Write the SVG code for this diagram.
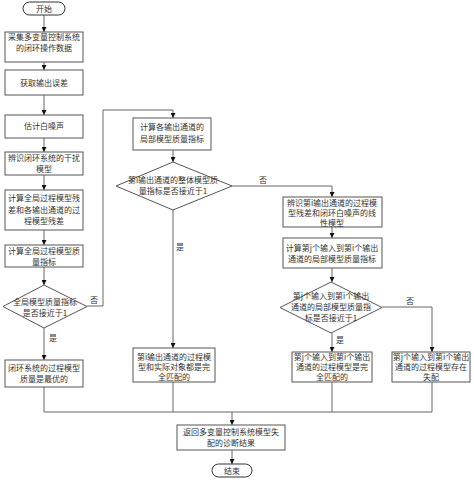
<svg xmlns="http://www.w3.org/2000/svg" width="474" height="482" viewBox="0 0 474 482">
<defs>
<marker id="arr" viewBox="0 0 10 10" refX="10" refY="5" markerWidth="5" markerHeight="5" orient="auto" markerUnits="userSpaceOnUse">
<path d="M0,0 L10,5 L0,10 z" fill="#111"/>
</marker>
</defs>
<style>
.box{fill:#fff;stroke:#555;stroke-width:1}
.pill{fill:#fff;stroke:#333;stroke-width:1}
.t{font-family:"Noto Sans CJK SC","Noto Sans",sans-serif;font-size:8px;fill:#333;text-anchor:middle}
.l{fill:none;stroke:#666;stroke-width:1}
.a{fill:none;stroke:#666;stroke-width:1;marker-end:url(#arr)}
</style>
<rect width="474" height="482" fill="#fff"/>

<g id="connectors">
<path class="a" d="M44,15 V32"/>
<path class="a" d="M44,62 V70"/>
<path class="a" d="M44,95 V115"/>
<path class="a" d="M44,138 V152"/>
<path class="a" d="M44,175 V190"/>
<path class="a" d="M44,230 V245"/>
<path class="a" d="M44,267 V285"/>
<path class="a" d="M44,328 V360"/>
<path class="a" d="M87,306 H103 V110 H173 V118"/>
<path class="a" d="M173,150 V162"/>
<path class="a" d="M232,186 H332 V197"/>
<path class="a" d="M173,210 V348"/>
<path class="a" d="M332,227 V238"/>
<path class="a" d="M332,268 V282"/>
<path class="a" d="M382,307 H432 V352"/>
<path class="a" d="M332,333 V352"/>
<path class="l" d="M44,387 V412 H432"/>
<path class="l" d="M173,382 V412"/>
<path class="l" d="M332,382 V412"/>
<path class="l" d="M432,382 V412"/>
<path class="a" d="M232,412 V425"/>
<path class="a" d="M232,450 V464"/>
<text class="t" x="94" y="303">否</text>
<text class="t" x="53" y="341">是</text>
<text class="t" x="263" y="183">否</text>
<text class="t" x="180" y="250">是</text>
<text class="t" x="410" y="304">否</text>
<text class="t" x="340" y="343">是</text>
</g>

<g id="start">
<rect class="pill" x="23" y="2" width="42" height="13" rx="6.5"/>
<text class="t" x="44" y="11.5">开始</text>
</g>

<g id="collect">
<rect class="box" x="5" y="32" width="78" height="30"/>
<text class="t" x="44" y="39.5">采集多变量控制系统</text>
<text class="t" x="44" y="51">的闭环操作数据</text>
</g>

<g id="error">
<rect class="box" x="5" y="70" width="78" height="25"/>
<text class="t" x="44" y="86">获取输出误差</text>
</g>

<g id="noise">
<rect class="box" x="5" y="115" width="78" height="23"/>
<text class="t" x="44" y="129">估计白噪声</text>
</g>

<g id="disturb">
<rect class="box" x="5" y="152" width="78" height="23"/>
<text class="t" x="44" y="160.5">辨识闭环系统的干扰</text>
<text class="t" x="44" y="171.5">模型</text>
</g>

<g id="residual">
<rect class="box" x="5" y="190" width="78" height="40"/>
<text class="t" x="44" y="201">计算全局过程模型残</text>
<text class="t" x="44" y="213">差和各输出通道的过</text>
<text class="t" x="44" y="224">程模型残差</text>
</g>

<g id="globalq">
<rect class="box" x="5" y="245" width="78" height="22"/>
<text class="t" x="44" y="253.5">计算全局过程模型质</text>
<text class="t" x="44" y="264.5">量指标</text>
</g>

<g id="dec1">
<polygon class="box" points="44,285 87,306.5 44,328 3,306.5"/>
<text class="t" x="45" y="305">全局模型质量指标</text>
<text class="t" x="45" y="316">是否接近于1</text>
</g>

<g id="optimal">
<rect class="box" x="5" y="360" width="78" height="27"/>
<text class="t" x="44" y="371">闭环系统的过程模型</text>
<text class="t" x="44" y="382">质量是最优的</text>
</g>

<g id="localq">
<rect class="box" x="133" y="118" width="78" height="32"/>
<text class="t" x="172" y="130">计算各输出通道的</text>
<text class="t" x="172" y="142">局部模型质量指标</text>
</g>

<g id="dec2">
<polygon class="box" points="173,162 232,186 173,210 116,186"/>
<text class="t" x="173" y="183">第i输出通道的整体模型质</text>
<text class="t" x="173" y="193.5">量指标是否接近于1</text>
</g>

<g id="matchi">
<rect class="box" x="133" y="348" width="82" height="34"/>
<text class="t" x="174" y="360">第i输出通道的过程模</text>
<text class="t" x="174" y="370">型和实际对象都是完</text>
<text class="t" x="174" y="380">全匹配的</text>
</g>

<g id="identify">
<rect class="box" x="283" y="197" width="99" height="30"/>
<text class="t" x="332" y="206">辨识第i输出通道的过程模</text>
<text class="t" x="332" y="216">型残差和闭环白噪声的线</text>
<text class="t" x="332" y="226">性模型</text>
</g>

<g id="localij">
<rect class="box" x="283" y="238" width="99" height="30"/>
<text class="t" x="332" y="251">计算第j个输入到第i个输出</text>
<text class="t" x="332" y="262">通道的局部模型质量指标</text>
</g>

<g id="dec3">
<polygon class="box" points="331,282 382,307.5 331,333 280,307.5"/>
<text class="t" x="331" y="299">第j个输入到第i个输出</text>
<text class="t" x="331" y="310">通道的局部模型质量指</text>
<text class="t" x="331" y="321">标是否接近于1</text>
</g>

<g id="matchij">
<rect class="box" x="292" y="352" width="80" height="30"/>
<text class="t" x="332" y="359.5">第j个输入到第i个输出</text>
<text class="t" x="332" y="370">通道的过程模型是完</text>
<text class="t" x="332" y="380">全匹配的</text>
</g>

<g id="mismatch">
<rect class="box" x="392" y="352" width="78" height="30"/>
<text class="t" x="431" y="359.5">第j个输入到第i个输出</text>
<text class="t" x="431" y="370">通道的过程模型存在</text>
<text class="t" x="431" y="380">失配</text>
</g>

<g id="result">
<rect class="box" x="177" y="425" width="108" height="25"/>
<text class="t" x="231" y="435">返回多变量控制系统模型失</text>
<text class="t" x="231" y="446">配的诊断结果</text>
</g>

<g id="end">
<rect class="pill" x="212" y="464" width="40" height="13" rx="6.5"/>
<text class="t" x="232" y="473.5">结束</text>
</g>
</svg>
